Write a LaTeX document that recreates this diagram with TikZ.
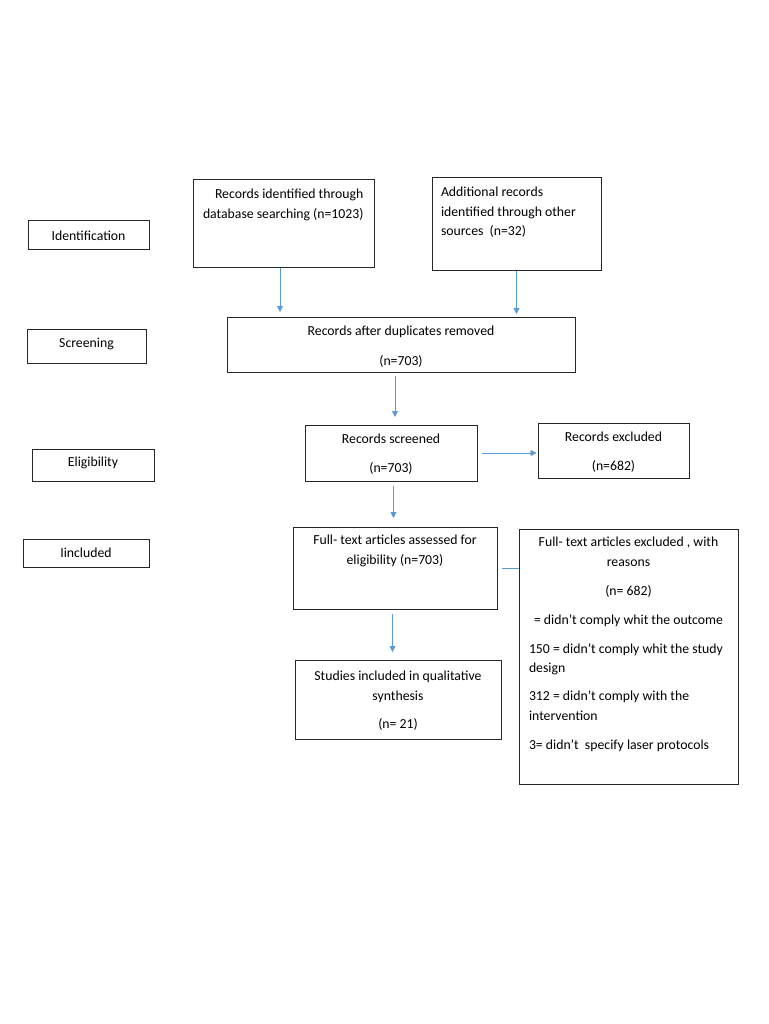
\documentclass[tikz,border=0pt]{standalone}
\usepackage{fontspec}
\setmainfont{Carlito}
\usetikzlibrary{arrows.meta}
\definecolor{flowblue}{RGB}{91,155,213}
% box body: width, height, top pad, text
\newcommand{\boxtext}[4]{\parbox[c][#2][t]{#1}{\vspace*{#3}#4}}
\tikzset{
    %Define standard arrow tip
    >={Triangle[width=6pt,length=6pt]},
    rec/.style={
      rectangle,
      draw=black!85, line width=1pt,
      inner xsep=10pt, inner ysep=0pt, outer sep=0pt,
      font=\fontsize{13.75}{19.5}\selectfont},
    stage/.style={
      rec},
    flow/.style={
      ->, draw=flowblue, line width=0.9pt},
    link/.style={
      draw=flowblue, line width=0.9pt},
}
\begin{document}
\begin{tikzpicture}[x=1pt,y=-1pt]
    \fill[white] (0,0) rectangle (768,1024);
    \useasboundingbox (0,0) rectangle (768,1024);
    % stages
    \node (ident) [stage] at (88.5,235)
          {\boxtext{101pt}{28pt}{6pt}{\centering\strut Identification}};
    \node (screen) [stage] at (86.5,346)
          {\boxtext{99pt}{34pt}{5pt}{\centering\strut Screening}};
    \node (elig) [stage] at (93,465)
          {\boxtext{102pt}{32pt}{4pt}{\centering\strut Eligibility}};
    \node (incl) [stage] at (86,553)
          {\boxtext{106pt}{28pt}{5pt}{\centering\strut Iincluded}};
    % records
    \node (dbrec) [rec] at (283.5,223.5)
          {\boxtext{161pt}{87pt}{5pt}{\raggedright\strut\hspace*{12pt}Records identified through\\ database searching (n=1023)}};
    \node (addrec) [rec, inner xsep=9pt] at (516.5,224)
          {\boxtext{151pt}{92pt}{5pt}{\raggedright\strut Additional records\\ identified through other\\ sources~ (n=32)}};
    \node (dedup) [rec] at (401,344.5)
          {\boxtext{328pt}{55pt}{5pt}{\centering\strut Records after duplicates removed\\[10.5pt] (n=703)}};
    \node (screened) [rec] at (391,453)
          {\boxtext{152pt}{56pt}{5pt}{\centering\strut Records screened\\[9.5pt] (n=703)}};
    \node (excl) [rec] at (613.5,450.5)
          {\boxtext{131pt}{55pt}{5pt}{\centering\strut Records excluded\\[9.5pt] (n=682)}};
    \node (fulltext) [rec] at (395,568)
          {\boxtext{184pt}{82pt}{4pt}{\centering\strut Full- text articles assessed for\\ eligibility (n=703)}};
    \node (fullexcl) [rec] at (628.5,656.5)
          {\boxtext{199pt}{255pt}{4pt}{\centering\strut\mbox{Full- text articles excluded , with}\\ reasons\\[9.5pt] (n= 682)\\[9.5pt] = didn't comply whit the outcome\par\vspace{9.5pt}
           \raggedright\mbox{150 = didn't comply whit the study}\\ design\par\vspace{8.5pt}
           312 = didn't comply with the\\ intervention\par\vspace{9.5pt}
           \mbox{3= didn't\ \ specify laser protocols}}};
    \node (studies) [rec] at (398,699.5)
          {\boxtext{186pt}{79pt}{7pt}{\centering\strut Studies included in qualitative\\ synthesis\\[9pt] (n= 21)}};
    % connectors
    \draw[flow, shorten <=1pt, shorten >=5pt] ([xshift=-3.5pt]dbrec.south) -- ([xshift=-3.5pt]dbrec.south |- dedup.north);
    \draw[flow, shorten <=1pt, shorten >=3pt] (addrec.south) -- (addrec.south |- dedup.north);
    \draw[flow, shorten <=4pt, shorten >=8pt] ([xshift=-6pt]dedup.south) -- ([xshift=-6pt]dedup.south |- screened.north);
    \draw[flow, shorten <=5pt, shorten >=1.5pt] (screened.east) -- (screened.east -| excl.west);
    \draw[flow, shorten <=5pt, shorten >=9pt] ([xshift=-1.5pt]fulltext.north |- screened.south) -- ([xshift=-1.5pt]fulltext.north);
    \draw[link, shorten <=5pt] (fulltext.east) -- (fulltext.east -| fullexcl.west);
    \draw[flow, shorten <=5pt, shorten >=8pt] ([xshift=-2.5pt]fulltext.south) -- ([xshift=-2.5pt]fulltext.south |- studies.north);
\end{tikzpicture}
\end{document}
